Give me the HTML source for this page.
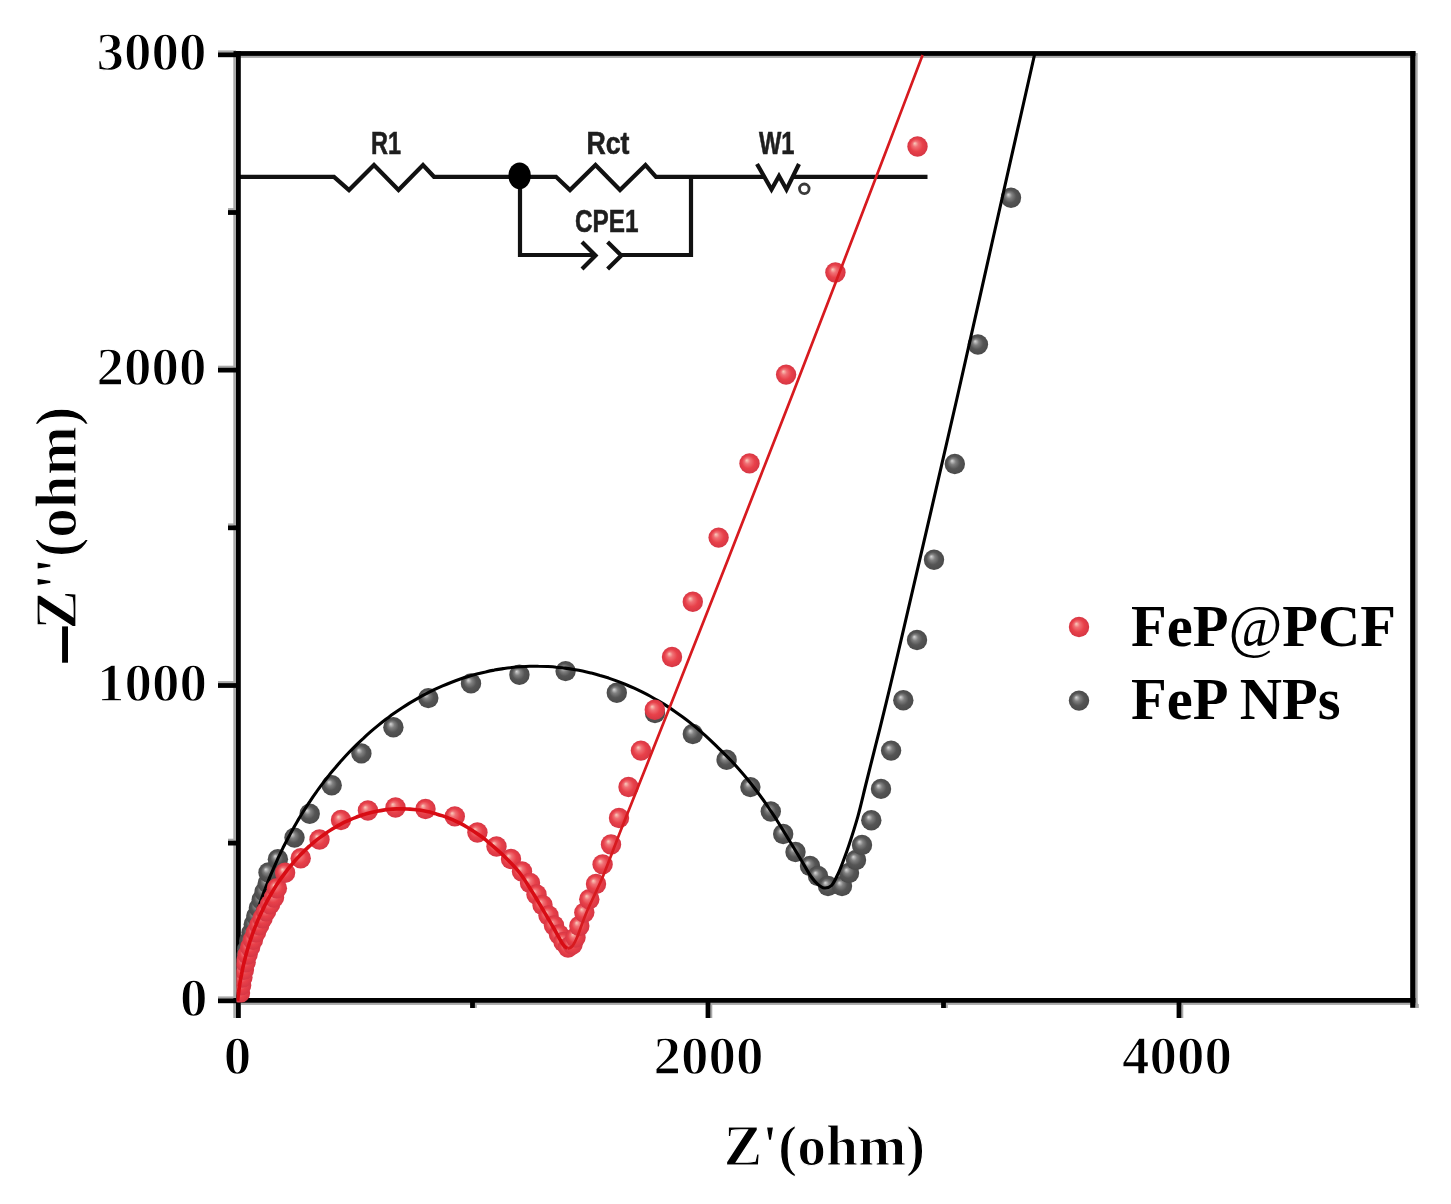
<!DOCTYPE html><html><head><meta charset="utf-8"><title>Nyquist plot</title><style>html,body{margin:0;padding:0;background:#fff;}svg{display:block;}</style></head><body>
<svg width="1451" height="1204" viewBox="0 0 1451 1204">
<defs>
<radialGradient id="gr" cx="0.5" cy="0.5" r="0.5" fx="0.36" fy="0.34">
<stop offset="0" stop-color="#f9cdbc"/><stop offset="0.28" stop-color="#f07075"/><stop offset="0.62" stop-color="#e8414a"/><stop offset="1" stop-color="#d63644"/></radialGradient>
<radialGradient id="gg" cx="0.5" cy="0.5" r="0.5" fx="0.36" fy="0.34">
<stop offset="0" stop-color="#d8d8d8"/><stop offset="0.3" stop-color="#808080"/><stop offset="0.62" stop-color="#555555"/><stop offset="1" stop-color="#4a4a4a"/></radialGradient>
</defs>
<rect x="0" y="0" width="1451" height="1204" fill="#fff"/>
<g font-family="Liberation Serif, serif" font-weight="bold" font-size="55" fill="#000" stroke="#fff" stroke-width="1.3">
<text x="207.5" y="1016.0" text-anchor="end">0</text>
<text x="207.0" y="700.7" text-anchor="end">1000</text>
<text x="206.5" y="385.3" text-anchor="end">2000</text>
<text x="206.5" y="70.0" text-anchor="end">3000</text>
<text x="237.5" y="1073.8" text-anchor="middle">0</text>
<text x="708.5" y="1073.8" text-anchor="middle">2000</text>
<text x="1177.0" y="1073.8" text-anchor="middle">4000</text>
</g>
<text x="824.5" y="1165" text-anchor="middle" font-family="Liberation Serif, serif" font-weight="bold" font-size="57.6" stroke="#fff" stroke-width="1.2">Z'(ohm)</text>
<text transform="translate(76,518) rotate(-90)" text-anchor="middle" font-family="Liberation Serif, serif" font-weight="bold" font-size="59" stroke="#fff" stroke-width="1.2">Z''(ohm)</text>
<text transform="translate(84.5,644.5) rotate(-90) scale(1.2,1.45)" text-anchor="middle" font-family="Liberation Serif, serif" font-weight="bold" font-size="59">&#8211;</text>
<circle cx="1079" cy="627" r="10.2" fill="url(#gr)"/>
<circle cx="1079" cy="700.6" r="10.2" fill="url(#gg)"/>
<g font-family="Liberation Serif, serif" font-weight="bold" font-size="58.5" fill="#000">
<text x="1131" y="646.3">FeP<tspan font-weight="normal">@</tspan>PCF</text>
<text x="1131" y="718.7">FeP NPs</text>
</g>
<g stroke="#111" stroke-width="4.2" fill="none" stroke-linejoin="miter">
<path d="M240,176.8 H334 L349,190 L374,165 L398.5,190 L423,165 L434,176.8 H556 L570,190 L595.5,165 L620,190 L645.5,165 L656,176.8 H764"/>
<path d="M757,164 L771.5,189.5 L779,176 L786.5,189.5 L799,164"/>
<path d="M793,176.8 H927.5"/>
<path d="M520,177 V255 H595.5 M582,242 L595.5,255.5 L582,269 M607.6,242 L621.3,255.5 L607.6,269 M621,255 H691 V176.8"/>
</g>
<ellipse cx="519.6" cy="175.8" rx="11.2" ry="13.4" fill="#000"/>
<circle cx="804.3" cy="188.8" r="4.8" fill="none" stroke="#3a3a3a" stroke-width="2.8"/>
<g font-family="Liberation Sans, sans-serif" font-weight="bold" font-size="32" fill="#1e1e1e" stroke="#1e1e1e" stroke-width="0.6">
<text x="371.0" y="153.5" textLength="30.0" lengthAdjust="spacingAndGlyphs">R1</text>
<text x="586.5" y="153.5" textLength="43.0" lengthAdjust="spacingAndGlyphs">Rct</text>
<text x="759.0" y="154.0" textLength="35.5" lengthAdjust="spacingAndGlyphs">W1</text>
<text x="575.0" y="232.0" textLength="63.5" lengthAdjust="spacingAndGlyphs">CPE1</text>
</g>
<g shape-rendering="auto">
<rect x="233.3" y="57.0" width="2.7" height="961.0" fill="#a8a8a8"/>
<rect x="236.0" y="55.8" width="1179.4" height="2.1" fill="#a8a8a8"/>
<rect x="240.8" y="1002.8" width="1176.9" height="2.1" fill="#a8a8a8"/>
<rect x="1415.4" y="53.0" width="2.3" height="955.0" fill="#a8a8a8"/>
<rect x="218.0" y="996.4" width="18.0" height="2.0" fill="#a8a8a8"/>
<rect x="218.0" y="681.1" width="18.0" height="2.0" fill="#a8a8a8"/>
<rect x="218.0" y="365.7" width="18.0" height="2.0" fill="#a8a8a8"/>
<rect x="218.0" y="50.4" width="18.0" height="2.0" fill="#a8a8a8"/>
<rect x="228.0" y="838.7" width="8.0" height="2.0" fill="#a8a8a8"/>
<rect x="228.0" y="523.4" width="8.0" height="2.0" fill="#a8a8a8"/>
<rect x="228.0" y="208.1" width="8.0" height="2.0" fill="#a8a8a8"/>
<rect x="474.9" y="1004.0" width="1.9" height="4.0" fill="#a8a8a8"/>
<rect x="710.4" y="1004.0" width="1.9" height="14.0" fill="#a8a8a8"/>
<rect x="945.9" y="1004.0" width="1.9" height="4.0" fill="#a8a8a8"/>
<rect x="1181.4" y="1004.0" width="1.9" height="14.0" fill="#a8a8a8"/>
<rect x="1416.9" y="1004.0" width="1.9" height="4.0" fill="#a8a8a8"/>
<rect x="236.0" y="51.1" width="4.8" height="951.9" fill="#000"/>
<rect x="1410.2" y="51.1" width="5.2" height="956.7" fill="#000"/>
<rect x="233.5" y="51.1" width="1181.9" height="4.8" fill="#000"/>
<rect x="233.5" y="998.0" width="1181.9" height="4.8" fill="#000"/>
<rect x="218.0" y="998.4" width="19.0" height="4.8" fill="#000"/>
<rect x="218.0" y="683.1" width="19.0" height="4.8" fill="#000"/>
<rect x="218.0" y="367.7" width="19.0" height="4.8" fill="#000"/>
<rect x="218.0" y="52.4" width="19.0" height="4.8" fill="#000"/>
<rect x="228.0" y="840.7" width="9.0" height="4.8" fill="#000"/>
<rect x="228.0" y="525.4" width="9.0" height="4.8" fill="#000"/>
<rect x="228.0" y="210.1" width="9.0" height="4.8" fill="#000"/>
<rect x="236.0" y="1000.0" width="4.8" height="18.0" fill="#000"/>
<rect x="705.6" y="1000.0" width="4.8" height="18.0" fill="#000"/>
<rect x="1176.6" y="1000.0" width="4.8" height="18.0" fill="#000"/>
<rect x="470.1" y="1000.0" width="4.8" height="8.0" fill="#000"/>
<rect x="941.1" y="1000.0" width="4.8" height="8.0" fill="#000"/>
</g>
<clipPath id="pc"><rect x="236.6" y="54" width="1177.4" height="948.6"/></clipPath>
<g clip-path="url(#pc)">
<g>
<circle cx="238.9" cy="992.2" r="10.2" fill="url(#gg)"/>
<circle cx="240.2" cy="983.8" r="10.2" fill="url(#gg)"/>
<circle cx="241.7" cy="975.2" r="10.2" fill="url(#gg)"/>
<circle cx="243.4" cy="966.6" r="10.2" fill="url(#gg)"/>
<circle cx="245.2" cy="958.0" r="10.2" fill="url(#gg)"/>
<circle cx="247.2" cy="949.5" r="10.2" fill="url(#gg)"/>
<circle cx="249.2" cy="941.0" r="10.2" fill="url(#gg)"/>
<circle cx="251.5" cy="932.6" r="10.2" fill="url(#gg)"/>
<circle cx="253.8" cy="924.3" r="10.2" fill="url(#gg)"/>
<circle cx="256.3" cy="916.1" r="10.2" fill="url(#gg)"/>
<circle cx="258.9" cy="907.9" r="10.2" fill="url(#gg)"/>
<circle cx="261.7" cy="899.8" r="10.2" fill="url(#gg)"/>
<circle cx="264.6" cy="891.8" r="10.2" fill="url(#gg)"/>
<circle cx="267.8" cy="883.3" r="10.2" fill="url(#gg)"/>
<circle cx="268.5" cy="872.5" r="10.2" fill="url(#gg)"/>
<circle cx="277.9" cy="859.3" r="10.2" fill="url(#gg)"/>
<circle cx="294.5" cy="837.6" r="10.2" fill="url(#gg)"/>
<circle cx="309.7" cy="813.8" r="10.2" fill="url(#gg)"/>
<circle cx="331.7" cy="785.3" r="10.2" fill="url(#gg)"/>
<circle cx="361.4" cy="753.4" r="10.2" fill="url(#gg)"/>
<circle cx="393.4" cy="727.2" r="10.2" fill="url(#gg)"/>
<circle cx="428.3" cy="698.1" r="10.2" fill="url(#gg)"/>
<circle cx="471.0" cy="683.4" r="10.2" fill="url(#gg)"/>
<circle cx="519.4" cy="674.7" r="10.2" fill="url(#gg)"/>
<circle cx="565.6" cy="671.1" r="10.2" fill="url(#gg)"/>
<circle cx="616.8" cy="692.7" r="10.2" fill="url(#gg)"/>
<circle cx="655.0" cy="713.0" r="10.2" fill="url(#gg)"/>
<circle cx="692.8" cy="734.0" r="10.2" fill="url(#gg)"/>
<circle cx="726.6" cy="759.7" r="10.2" fill="url(#gg)"/>
<circle cx="750.4" cy="787.1" r="10.2" fill="url(#gg)"/>
<circle cx="770.8" cy="811.5" r="10.2" fill="url(#gg)"/>
<circle cx="783.2" cy="834.0" r="10.2" fill="url(#gg)"/>
<circle cx="795.5" cy="852.0" r="10.2" fill="url(#gg)"/>
<circle cx="810.0" cy="866.0" r="10.2" fill="url(#gg)"/>
<circle cx="818.0" cy="876.0" r="10.2" fill="url(#gg)"/>
<circle cx="828.0" cy="886.0" r="10.2" fill="url(#gg)"/>
<circle cx="842.0" cy="886.0" r="10.2" fill="url(#gg)"/>
<circle cx="849.0" cy="873.0" r="10.2" fill="url(#gg)"/>
<circle cx="856.0" cy="860.0" r="10.2" fill="url(#gg)"/>
<circle cx="862.0" cy="845.0" r="10.2" fill="url(#gg)"/>
<circle cx="871.3" cy="820.2" r="10.2" fill="url(#gg)"/>
<circle cx="881.0" cy="788.9" r="10.2" fill="url(#gg)"/>
<circle cx="891.1" cy="750.6" r="10.2" fill="url(#gg)"/>
<circle cx="903.3" cy="700.3" r="10.2" fill="url(#gg)"/>
<circle cx="917.0" cy="640.0" r="10.2" fill="url(#gg)"/>
<circle cx="934.0" cy="559.7" r="10.2" fill="url(#gg)"/>
<circle cx="954.8" cy="464.0" r="10.2" fill="url(#gg)"/>
<circle cx="977.9" cy="344.5" r="10.2" fill="url(#gg)"/>
<circle cx="1011.0" cy="197.8" r="10.2" fill="url(#gg)"/>
</g>
<path d="M237.2,1000.7 C237.5,998.8 238.3,992.9 238.9,989.1 C239.5,985.2 240.1,981.3 240.8,977.5 C241.5,973.6 242.3,969.8 243.0,966.0 C243.8,962.2 244.6,958.4 245.5,954.6 C246.3,950.8 247.2,947.0 248.2,943.3 C249.1,939.5 250.1,935.8 251.1,932.1 C252.1,928.4 253.2,924.7 254.3,921.0 C255.4,917.3 256.5,913.7 257.7,910.1 C258.9,906.5 260.1,902.8 261.4,899.3 C262.6,895.7 263.9,892.1 265.3,888.6 C266.6,885.1 268.0,881.6 269.4,878.1 C270.8,874.6 272.3,871.2 273.8,867.8 C275.3,864.4 276.8,861.0 278.3,857.6 C279.9,854.3 281.5,850.9 283.1,847.6 C284.8,844.4 286.4,841.1 288.1,837.9 C289.9,834.6 291.6,831.4 293.4,828.3 C295.1,825.1 297.0,822.0 298.8,818.9 C300.6,815.8 302.5,812.8 304.4,809.7 C306.3,806.7 308.3,803.7 310.3,800.8 C312.2,797.9 314.2,795.0 316.3,792.1 C318.3,789.2 320.4,786.4 322.5,783.6 C324.6,780.9 326.7,778.1 328.9,775.4 C331.0,772.7 333.2,770.1 335.5,767.5 C337.7,764.8 339.9,762.3 342.2,759.8 C344.5,757.2 346.8,754.7 349.1,752.3 C351.4,749.9 353.8,747.5 356.2,745.1 C358.5,742.8 360.9,740.5 363.4,738.3 C365.8,736.0 368.3,733.8 370.7,731.7 C373.2,729.5 375.7,727.4 378.2,725.4 C380.8,723.3 383.3,721.3 385.9,719.3 C388.5,717.4 391.0,715.5 393.7,713.6 C396.3,711.8 398.9,710.0 401.5,708.2 C404.2,706.5 406.9,704.8 409.5,703.1 C412.2,701.5 414.9,699.9 417.7,698.3 C420.4,696.8 423.1,695.3 425.9,693.9 C428.6,692.5 431.4,691.1 434.2,689.7 C436.9,688.4 439.7,687.1 442.6,685.9 C445.4,684.7 448.2,683.6 451.0,682.5 C453.9,681.3 456.7,680.3 459.6,679.3 C462.4,678.3 465.3,677.4 468.2,676.5 C471.1,675.6 473.9,674.8 476.8,674.0 C479.7,673.2 482.6,672.5 485.6,671.9 C488.5,671.2 491.4,670.6 494.3,670.1 C497.2,669.5 500.2,669.1 503.1,668.6 C506.1,668.2 509.0,667.8 511.9,667.5 C514.9,667.2 517.8,667.0 520.8,666.8 C523.7,666.6 526.7,666.4 529.6,666.3 C532.6,666.3 535.5,666.2 538.5,666.3 C541.5,666.3 544.4,666.4 547.4,666.5 C550.3,666.7 553.3,666.9 556.2,667.2 C559.2,667.4 562.1,667.8 565.0,668.1 C568.0,668.5 570.9,669.0 573.8,669.5 C576.8,670.0 579.7,670.5 582.6,671.1 C585.5,671.7 588.4,672.4 591.4,673.1 C594.3,673.8 597.2,674.6 600.0,675.5 C602.9,676.3 605.8,677.2 608.7,678.1 C611.5,679.1 614.4,680.1 617.2,681.1 C620.1,682.2 622.9,683.3 625.7,684.5 C628.6,685.7 631.4,686.9 634.2,688.2 C637.0,689.5 639.7,690.8 642.5,692.2 C645.3,693.6 648.0,695.0 650.8,696.5 C653.5,698.0 656.2,699.6 658.9,701.2 C661.6,702.8 664.3,704.4 667.0,706.1 C669.6,707.8 672.3,709.6 674.9,711.4 C677.5,713.2 680.1,715.1 682.7,717.0 C685.3,718.9 687.9,720.9 690.4,722.9 C692.9,724.9 695.5,727.0 698.0,729.1 C700.4,731.2 702.9,733.4 705.4,735.6 C707.8,737.8 710.2,740.0 712.6,742.4 C715.0,744.7 716.8,746.5 719.8,749.4 C722.8,752.3 727.2,756.6 730.5,760.0 C733.8,763.4 736.7,766.7 739.6,770.0 C742.5,773.3 745.4,776.7 748.1,780.0 C750.8,783.3 753.4,786.7 755.9,790.0 C758.4,793.3 760.9,796.7 763.3,800.0 C765.7,803.3 767.9,806.7 770.1,810.0 C772.3,813.3 774.6,816.7 776.7,820.0 C778.8,823.3 780.9,826.7 782.9,830.0 C784.9,833.3 787.0,836.7 789.0,840.0 C791.0,843.3 793.1,846.7 795.1,850.0 C797.1,853.3 798.5,855.6 801.1,860.0 C803.8,864.4 808.2,872.5 811.0,876.5 C813.8,880.5 815.4,882.2 817.6,884.1 C819.8,886.0 821.9,887.8 824.2,888.0 C826.5,888.2 829.3,887.7 831.5,885.5 C833.7,883.3 835.6,878.9 837.5,875.0 C839.4,871.1 841.0,867.0 842.9,862.0 C844.8,857.0 846.5,852.6 849.0,845.0 C851.5,837.4 855.0,826.6 857.9,816.3 C860.8,806.0 863.4,794.1 866.2,783.0 C869.0,771.9 871.7,760.9 874.5,749.8 C877.3,738.7 878.4,734.9 882.8,716.6 C887.2,698.3 888.8,692.8 901.1,640.0 C913.4,587.2 941.2,467.5 956.6,400.0 C972.0,332.5 980.8,292.7 993.8,235.0 C1006.8,177.3 1027.9,84.2 1034.7,54.0" fill="none" stroke="#000" stroke-width="3.1"/>
<g>
<circle cx="240.0" cy="992.9" r="10.2" fill="url(#gr)"/>
<circle cx="241.1" cy="985.4" r="10.2" fill="url(#gr)"/>
<circle cx="242.4" cy="977.6" r="10.2" fill="url(#gr)"/>
<circle cx="243.9" cy="969.8" r="10.2" fill="url(#gr)"/>
<circle cx="245.6" cy="962.2" r="10.2" fill="url(#gr)"/>
<circle cx="247.6" cy="954.6" r="10.2" fill="url(#gr)"/>
<circle cx="250.2" cy="947.1" r="10.2" fill="url(#gr)"/>
<circle cx="253.0" cy="939.7" r="10.2" fill="url(#gr)"/>
<circle cx="256.0" cy="932.4" r="10.2" fill="url(#gr)"/>
<circle cx="259.2" cy="925.3" r="10.2" fill="url(#gr)"/>
<circle cx="262.6" cy="918.3" r="10.2" fill="url(#gr)"/>
<circle cx="266.1" cy="911.4" r="10.2" fill="url(#gr)"/>
<circle cx="270.1" cy="904.4" r="10.2" fill="url(#gr)"/>
<circle cx="274.0" cy="897.5" r="10.2" fill="url(#gr)"/>
<circle cx="276.9" cy="888.2" r="10.2" fill="url(#gr)"/>
<circle cx="285.1" cy="872.7" r="10.2" fill="url(#gr)"/>
<circle cx="300.7" cy="858.2" r="10.2" fill="url(#gr)"/>
<circle cx="319.5" cy="839.5" r="10.2" fill="url(#gr)"/>
<circle cx="341.0" cy="820.0" r="10.2" fill="url(#gr)"/>
<circle cx="367.9" cy="810.5" r="10.2" fill="url(#gr)"/>
<circle cx="395.5" cy="807.5" r="10.2" fill="url(#gr)"/>
<circle cx="425.5" cy="809.0" r="10.2" fill="url(#gr)"/>
<circle cx="454.8" cy="816.4" r="10.2" fill="url(#gr)"/>
<circle cx="477.4" cy="832.5" r="10.2" fill="url(#gr)"/>
<circle cx="496.5" cy="846.5" r="10.2" fill="url(#gr)"/>
<circle cx="511.0" cy="859.0" r="10.2" fill="url(#gr)"/>
<circle cx="522.0" cy="871.5" r="10.2" fill="url(#gr)"/>
<circle cx="530.0" cy="883.0" r="10.2" fill="url(#gr)"/>
<circle cx="536.5" cy="894.5" r="10.2" fill="url(#gr)"/>
<circle cx="542.5" cy="905.0" r="10.2" fill="url(#gr)"/>
<circle cx="548.5" cy="915.5" r="10.2" fill="url(#gr)"/>
<circle cx="554.0" cy="925.5" r="10.2" fill="url(#gr)"/>
<circle cx="559.0" cy="934.5" r="10.2" fill="url(#gr)"/>
<circle cx="563.5" cy="942.0" r="10.2" fill="url(#gr)"/>
<circle cx="568.0" cy="947.5" r="10.2" fill="url(#gr)"/>
<circle cx="572.5" cy="944.5" r="10.2" fill="url(#gr)"/>
<circle cx="575.5" cy="937.5" r="10.2" fill="url(#gr)"/>
<circle cx="579.3" cy="926.0" r="10.2" fill="url(#gr)"/>
<circle cx="584.3" cy="912.6" r="10.2" fill="url(#gr)"/>
<circle cx="589.3" cy="899.3" r="10.2" fill="url(#gr)"/>
<circle cx="596.0" cy="884.0" r="10.2" fill="url(#gr)"/>
<circle cx="602.6" cy="864.4" r="10.2" fill="url(#gr)"/>
<circle cx="611.0" cy="844.5" r="10.2" fill="url(#gr)"/>
<circle cx="619.0" cy="818.0" r="10.2" fill="url(#gr)"/>
<circle cx="628.5" cy="787.0" r="10.2" fill="url(#gr)"/>
<circle cx="640.9" cy="750.6" r="10.2" fill="url(#gr)"/>
<circle cx="654.8" cy="709.8" r="10.2" fill="url(#gr)"/>
<circle cx="672.0" cy="657.0" r="10.2" fill="url(#gr)"/>
<circle cx="692.8" cy="601.7" r="10.2" fill="url(#gr)"/>
<circle cx="718.6" cy="537.6" r="10.2" fill="url(#gr)"/>
<circle cx="749.5" cy="463.4" r="10.2" fill="url(#gr)"/>
<circle cx="786.1" cy="374.6" r="10.2" fill="url(#gr)"/>
<circle cx="835.4" cy="272.5" r="10.2" fill="url(#gr)"/>
<circle cx="917.5" cy="146.5" r="10.2" fill="url(#gr)"/>
</g>
<path d="M237.6,1000.8 C237.8,999.3 238.3,994.9 238.7,992.0 C239.0,989.1 239.5,986.2 239.9,983.2 C240.4,980.3 240.9,977.5 241.5,974.6 C242.0,971.7 242.6,968.8 243.2,966.0 C243.9,963.1 244.6,960.3 245.3,957.5 C246.0,954.7 246.8,951.9 247.6,949.1 C248.4,946.4 249.3,943.6 250.1,940.9 C251.0,938.2 252.0,935.5 252.9,932.8 C253.9,930.2 254.9,927.5 256.0,924.9 C257.0,922.3 258.1,919.7 259.3,917.1 C260.4,914.6 261.6,912.1 262.8,909.6 C264.0,907.1 265.2,904.6 266.5,902.2 C267.8,899.8 269.1,897.4 270.5,895.0 C271.8,892.7 273.2,890.3 274.6,888.1 C276.0,885.8 277.5,883.5 279.0,881.3 C280.5,879.1 282.0,877.0 283.6,874.9 C285.1,872.7 286.7,870.7 288.3,868.6 C289.9,866.6 291.6,864.6 293.3,862.7 C294.9,860.7 296.6,858.8 298.4,857.0 C300.1,855.1 301.9,853.3 303.7,851.6 C305.5,849.8 307.3,848.1 309.1,846.4 C311.0,844.8 312.8,843.2 314.7,841.6 C316.6,840.0 318.5,838.5 320.5,837.1 C322.4,835.6 324.3,834.2 326.3,832.9 C328.3,831.5 330.3,830.2 332.3,829.0 C334.3,827.8 336.4,826.6 338.4,825.4 C340.5,824.3 342.5,823.2 344.6,822.2 C346.7,821.2 348.8,820.2 350.9,819.3 C353.0,818.4 355.2,817.6 357.3,816.8 C359.4,816.0 361.6,815.2 363.7,814.6 C365.9,813.9 368.1,813.3 370.3,812.7 C372.4,812.2 374.6,811.7 376.8,811.2 C379.0,810.8 381.2,810.4 383.4,810.1 C385.6,809.8 387.8,809.5 390.1,809.3 C392.3,809.1 394.5,809.0 396.7,808.9 C398.9,808.8 401.1,808.8 403.4,808.8 C405.6,808.9 407.8,809.0 410.0,809.1 C412.2,809.3 414.4,809.5 416.6,809.8 C418.9,810.0 421.1,810.4 423.3,810.8 C425.5,811.2 427.7,811.6 429.8,812.1 C432.0,812.7 434.2,813.2 436.4,813.9 C438.5,814.5 440.7,815.2 442.8,815.9 C445.0,816.7 447.1,817.5 449.3,818.4 C451.4,819.2 453.5,820.1 455.6,821.1 C457.7,822.1 459.8,823.1 461.8,824.2 C463.9,825.3 465.9,826.5 468.0,827.7 C470.0,828.9 472.0,830.1 474.0,831.4 C476.0,832.7 478.0,834.1 479.9,835.5 C481.9,836.9 483.8,838.4 485.7,839.9 C487.6,841.5 488.1,841.8 491.3,844.7 C494.6,847.5 500.3,852.3 505.0,857.0 C509.7,861.7 515.3,867.2 519.8,873.0 C524.3,878.8 527.8,884.9 532.0,891.5 C536.2,898.1 541.0,906.6 544.8,912.9 C548.5,919.2 551.5,924.2 554.5,929.5 C557.5,934.8 560.8,941.3 563.0,944.5 C565.2,947.7 566.8,947.8 567.5,948.5" fill="none" stroke="#d80c14" stroke-width="3.6"/>
<path d="M567.5,948.5 C568.2,948.2 570.4,948.3 572.0,946.5 C573.6,944.7 574.6,943.1 577.0,937.5 C579.4,931.9 582.0,923.1 586.3,912.9 C590.6,902.7 597.1,890.2 602.9,876.4 C608.7,862.6 613.6,848.6 620.9,830.0 C628.2,811.4 638.2,786.7 646.8,765.0 C655.4,743.3 663.7,722.5 672.6,700.0 C681.5,677.5 691.0,653.3 700.2,630.0 C709.4,606.7 718.6,583.3 727.8,560.0 C736.9,536.7 746.0,513.3 755.1,490.0 C764.2,466.7 773.4,443.3 782.5,420.0 C791.6,396.7 800.6,373.3 809.6,350.0 C818.6,326.7 827.6,303.3 836.6,280.0 C845.6,256.7 854.5,233.3 863.5,210.0 C872.5,186.7 880.4,165.8 890.3,140.0 C900.1,114.2 917.2,69.2 922.6,55.0" fill="none" stroke="#d71a1f" stroke-width="2.7"/>
</g>
</svg></body></html>
